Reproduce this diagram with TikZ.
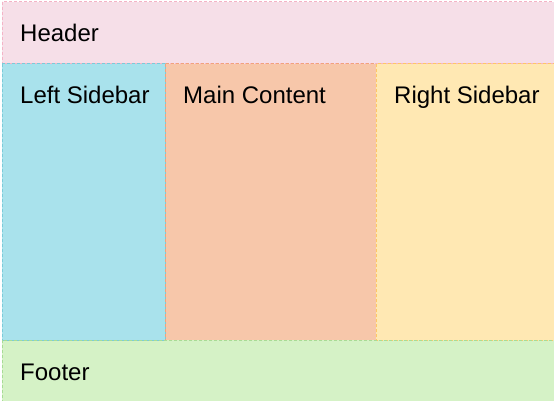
\documentclass[tikz,border=0pt]{standalone}
\usepackage{fontspec}
\setmainfont{Liberation Sans}
\definecolor{headfill}{HTML}{F6DFE8}
\definecolor{headline}{HTML}{F4B3C6}
\definecolor{leftfill}{HTML}{A9E2EC}
\definecolor{leftline}{HTML}{7ACCD9}
\definecolor{mainfill}{HTML}{F7C7AA}
\definecolor{mainline}{HTML}{F2A27C}
\definecolor{rightfill}{HTML}{FFE8B3}
\definecolor{rightline}{HTML}{FFC865}
\definecolor{footfill}{HTML}{D5F2C6}
\definecolor{footline}{HTML}{A8DC95}
\tikzset{
  region/.style={line width=1pt, dash pattern=on 3pt off 2pt},
  caption/.style={anchor=base west, inner sep=0pt, font=\fontsize{24}{28}\selectfont}
}
\begin{document}
\begin{tikzpicture}[x=1pt, y=-1pt]
\useasboundingbox (0,0) rectangle (554,401);
% Coordenadas de la rejilla
\coordinate (HA) at (2,2);
\coordinate (HB) at (555,64);
\coordinate (LA) at (2,64);
\coordinate (LB) at (165,340);
\coordinate (MA) at (165,64);
\coordinate (MB) at (376,340);
\coordinate (RA) at (376,64);
\coordinate (RB) at (555,340);
\coordinate (FA) at (2,340);
\coordinate (FB) at (555,402);

% Rellenos
\fill[headfill] (HA) rectangle (HB);
\fill[leftfill] (LA) rectangle (LB);
\fill[mainfill] (MA) rectangle (MB);
\fill[rightfill] (RA) rectangle (RB);
\fill[footfill] (FA) rectangle (FB);

% Bordes punteados
\draw[region, headline] (HA) rectangle (HB);
\draw[region, leftline] (LA) rectangle (LB);
\draw[region, mainline] (MA) rectangle (MB);
\draw[region, rightline] (RA) rectangle (RB);
\draw[region, footline] (FA) rectangle (FB);

% Etiquetas
\node[caption] (header) at (20,42) {Header};
\node[caption] (left) at (20,104) {Left Sidebar};
\node[caption] (main) at (183,104) {Main Content};
\node[caption] (right) at (394,104) {Right Sidebar};
\node[caption] (footer) at (20,380) {Footer};
\end{tikzpicture}
\end{document}
